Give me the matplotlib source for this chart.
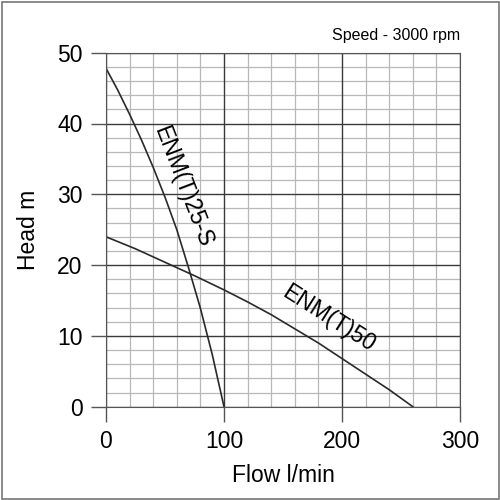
import matplotlib.pyplot as plt
from matplotlib.patches import Rectangle
from matplotlib.ticker import MultipleLocator

plt.rcParams["font.family"] = ["Liberation Sans", "DejaVu Sans"]

# pump curves
flow_25s = [0, 10, 20, 30, 40, 50, 60, 70, 80, 90, 100]
head_25s = [47.8, 44.7, 41.3, 37.7, 33.8, 29.6, 25.0, 19.6, 13.9, 7.4, 0]

flow_50 = [0, 25, 50, 75, 100, 120, 140, 160, 180, 200, 220, 240, 260]
head_50 = [24.0, 22.3, 20.4, 18.5, 16.5, 14.8, 13.0, 11.0, 9.0, 6.8, 4.6, 2.4, 0]

fig = plt.figure(figsize=(5, 5), dpi=100)
ax = fig.add_axes([0.212, 0.1866, 0.708, 0.708])

ax.set_xlim(0, 300)
ax.set_ylim(0, 50)
ax.xaxis.set_major_locator(MultipleLocator(100))
ax.xaxis.set_minor_locator(MultipleLocator(20))
ax.yaxis.set_major_locator(MultipleLocator(10))
ax.yaxis.set_minor_locator(MultipleLocator(2))
ax.grid(which="minor", color="#b8b8b8", lw=0.9, zorder=0.5)
ax.set_axisbelow(True)
# heavier lines on the major ticks, drawn above the light grid
ax.vlines(ax.get_xticks(), 0, 50, color="#3a3a3a", lw=1.0, zorder=1)
ax.hlines(ax.get_yticks(), 0, 300, color="#3a3a3a", lw=1.0, zorder=1)
ax.tick_params(which="major", direction="out", length=11, width=1,
               color="#555555", labelsize=16.5, pad=6)
ax.tick_params(which="minor", length=0)
for s in ax.spines.values():
    s.set_color("#555555")

ax.plot(flow_25s, head_25s, color="#2a2a2a", lw=1.2, zorder=2)
ax.plot(flow_50, head_50, color="#2a2a2a", lw=1.2, zorder=2)

ax.text(65.0, 31.1, "ENM(T)25-S", rotation=-69, fontsize=16.5,
        ha="center", va="center", rotation_mode="anchor")
ax.text(189.0, 12.4, "ENM(T)50", rotation=-32.5, fontsize=16.5,
        ha="center", va="center", rotation_mode="anchor")

ax.set_xlabel("Flow l/min", fontsize=16.5, labelpad=8)
ax.set_ylabel("Head m", fontsize=16.5, labelpad=12)
fig.text(0.92, 0.929, "Speed - 3000 rpm", fontsize=11.5, ha="right",
         va="center")

fig.patches.append(Rectangle((0.003, 0.003), 0.994, 0.994,
                             transform=fig.transFigure, fill=False,
                             ec="#777777", lw=1.2))

fig.savefig("out.png", dpi=100)
